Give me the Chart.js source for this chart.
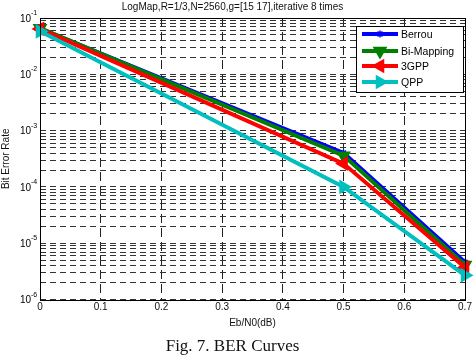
<!DOCTYPE html>
<html><head><meta charset="utf-8">
<script src="https://cdn.jsdelivr.net/npm/chart.js@4"></script>
<style>html,body{margin:0;padding:0;background:#fff}#wrap{width:474px;height:364px}</style>
</head><body><div id="wrap"><canvas id="c" width="474" height="364"></canvas></div>
<script>
// ---- data ----
const ebn0 = [0, 0.5, 0.7];
const berrou = [0.065, 4.0e-4, 4.6e-6];
const biMapping = [0.066, 3.6e-4, 4.1e-6];
const gpp3 = [0.064, 2.6e-4, 3.7e-6];
const qpp = [0.058, 1.0e-4, 2.7e-6];
const seriesNames = ['Berrou', 'Bi-Mapping', '3GPP', 'QPP'];
const xTickValues = [0, 0.1, 0.2, 0.3, 0.4, 0.5, 0.6, 0.7];
const yDecades = [-6, -5, -4, -3, -2, -1];

const SANS = '"Liberation Sans", Arial, sans-serif';
const SERIF = '"Liberation Serif", "Times New Roman", serif';

function pts(vals){ return ebn0.map((x,i)=>({x:x, y:vals[i]})); }

const styles = [
  {color:'#0000ff', pointStyle:'star', radius:3.5, rot:0},
  {color:'#007f00', pointStyle:'triangle', radius:7, rot:180},
  {color:'#ff0000', pointStyle:'triangle', radius:7, rot:270},
  {color:'#00bfbf', pointStyle:'triangle', radius:7, rot:90}
];
const seriesVals = [berrou, biMapping, gpp3, qpp];

const datasets = seriesVals.map((v,i)=>({
  label: seriesNames[i],
  data: pts(v),
  borderColor: styles[i].color,
  backgroundColor: styles[i].color,
  borderWidth: 4,
  pointStyle: styles[i].pointStyle,
  pointRadius: styles[i].radius,
  pointRotation: styles[i].rot,
  pointBorderWidth: 1.5,
  pointBorderColor: styles[i].color,
  pointBackgroundColor: styles[i].color,
  tension: 0,
  clip: false,
  order: 4 - i
}));

const yTickList = [];
yDecades.forEach(e=>{
  for(let m=1;m<=9;m++){
    const v = m*Math.pow(10,e);
    if (e===-1 && m>1) break;
    yTickList.push({value: parseFloat(v.toPrecision(3)), major: m===1, exp:e});
  }
});

const framePlugin = {
  id:'frame',
  afterDatasetsDraw(chart){
    const {ctx, chartArea:a, scales} = chart;
    ctx.save();
    ctx.strokeStyle = '#000'; ctx.lineWidth = 1; ctx.setLineDash([]);
    ctx.strokeRect(Math.round(a.left)+0.5, Math.round(a.top)+0.5, Math.round(a.right-a.left), Math.round(a.bottom-a.top));
    // y tick labels with superscript exponents
    const ys = scales.y;
    ctx.fillStyle = '#000';
    yTickList.filter(t=>t.major).forEach(t=>{
      const py = ys.getPixelForValue(t.value);
      ctx.font = '10px ' + SANS;
      ctx.textAlign = 'right'; ctx.textBaseline = 'middle';
      ctx.fillText('10', 31, py+1);
      ctx.font = '7px ' + SANS;
      ctx.textAlign = 'left';
      ctx.fillText('-' + Math.abs(t.exp), 31, py-5);
    });
    // legend box
    const bx = 356, by = 26, bw = 107, bh = 66;
    ctx.fillStyle = '#fff';
    ctx.fillRect(bx, by, bw, bh);
    ctx.strokeStyle = '#000';
    ctx.strokeRect(bx+0.5, by+0.5, bw, bh);
    const rows = [34, 51, 66, 82];
    chart.data.datasets.forEach((ds,i)=>{
      const y = rows[i];
      ctx.strokeStyle = ds.borderColor; ctx.lineWidth = 4;
      ctx.beginPath(); ctx.moveTo(362, y); ctx.lineTo(398, y); ctx.stroke();
      const opts = {pointStyle: ds.pointStyle, radius: ds.pointRadius, rotation: ds.pointRotation, borderWidth: ds.pointBorderWidth};
      ctx.fillStyle = ds.pointBackgroundColor; ctx.strokeStyle = ds.pointBorderColor; ctx.lineWidth = ds.pointBorderWidth;
      if (Chart.helpers && Chart.helpers.drawPoint) Chart.helpers.drawPoint(ctx, opts, 380, y);
      ctx.fillStyle = '#000';
      ctx.font = '10.5px ' + SANS; ctx.textAlign = 'left'; ctx.textBaseline = 'middle';
      ctx.fillText(ds.label, 401, y+1);
    });
    ctx.restore();
  }
};

new Chart(document.getElementById('c'), {
  type: 'line',
  data: { datasets },
  options: {
    responsive: false,
    devicePixelRatio: 1,
    animation: false,
    layout: { padding: { left: 0, right: 9, top: 0, bottom: 0 } },
    plugins: {
      legend: { display: false },
      tooltip: { enabled: false },
      title: { display: true, text: 'LogMap,R=1/3,N=2560,g=[15 17],iterative 8 times',
               color:'#111', font: { family: SANS, size: 10, weight: 'normal' },
               padding: { top: 1, bottom: 5 } },
      subtitle: { display: true, position: 'bottom', text: 'Fig. 7. BER Curves',
               color:'#111', font: { family: SERIF, size: 17, weight: 'normal' },
               padding: { top: 7, bottom: 7 } }
    },
    scales: {
      x: {
        type: 'linear', min: 0, max: 0.7,
        afterBuildTicks(s){ s.ticks = xTickValues.map(v=>({value:v})); },
        afterFit(s){ s.height = 30; },
        ticks: { color:'#111', font:{family:SANS, size:10}, padding: 2,
                 callback: v => v === 0 ? '0' : Number(v).toFixed(1), maxRotation:0, autoSkip:false },
        grid: { color:'#222', lineWidth: 1, drawTicks: false },
        border: { display: false, dash: [9, 5] },
        title: { display: true, text: 'Eb/N0(dB)', color:'#111', font:{family:SANS, size:10}, padding: {top:0, bottom:0} }
      },
      y: {
        type: 'logarithmic', min: 1e-6, max: 1e-1,
        afterBuildTicks(s){ s.ticks = yTickList.map(t=>({value:t.value, major:t.major})); },
        afterFit(s){ s.width = 40; },
        ticks: { display: false },
        grid: { color:'#333', lineWidth: 1, drawTicks: false },
        border: { display: false, dash: [6, 4] },
        title: { display: true, text: 'Bit Error Rate', color:'#111', font:{family:SANS, size:10}, padding: {top:0, bottom:0} }
      }
    }
  },
  plugins: [framePlugin]
});
</script>
</body></html>
